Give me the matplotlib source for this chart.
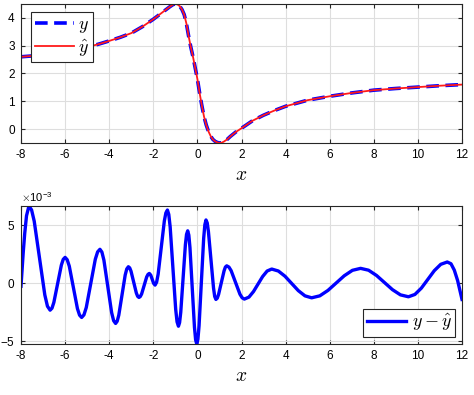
import numpy as np
import matplotlib
matplotlib.use("Agg")
import matplotlib.pyplot as plt
from matplotlib.ticker import ScalarFormatter

plt.rcParams['font.family'] = ['Liberation Sans', 'DejaVu Sans']
plt.rcParams['mathtext.fontset'] = 'cm'
plt.rcParams['axes.unicode_minus'] = False

# top panel: y and its approximation
x_top = [-8, -7.5, -7, -6.5, -6, -5.5, -5, -4.5, -4, -3.5, -3, -2.5, -2, -1.75,
         -1.5, -1.25, -1.1, -1, -0.9, -0.8, -0.7, -0.6, -0.5, -0.4, -0.3, -0.2,
         -0.1, 0, 0.1, 0.2, 0.3, 0.4, 0.5, 0.6, 0.7, 0.8, 0.9, 1.0, 1.1, 1.2,
         1.35, 1.5, 1.75, 2, 2.5, 3, 3.5, 4, 5, 6, 7, 8, 9, 10, 11, 12]
y_top = [2.6, 2.63, 2.67, 2.72, 2.78, 2.86, 2.95, 3.05, 3.17, 3.3, 3.45, 3.68,
         3.95, 4.1, 4.25, 4.4, 4.48, 4.5, 4.48, 4.42, 4.3, 4.12, 3.8, 3.35, 2.95,
         2.6, 2.2, 1.8, 1.3, 0.85, 0.45, 0.15, -0.08, -0.25, -0.37, -0.44, -0.48,
         -0.5, -0.49, -0.45, -0.37, -0.26, -0.1, 0.03, 0.3, 0.5, 0.67, 0.82, 1.04,
         1.18, 1.3, 1.4, 1.46, 1.51, 1.56, 1.6]
yhat_top = y_top

# bottom panel: error y - yhat, in units of 1e-3
x_err = [-8, -7.95, -7.9, -7.83, -7.75, -7.64, -7.52, -7.40, -7.16, -6.92, -6.80,
         -6.68, -6.595, -6.51, -6.34, -6.17, -6.085, -6.0, -5.906, -5.81, -5.625,
         -5.44, -5.344, -5.25, -5.146, -5.04, -4.835, -4.63, -4.524, -4.42,
         -4.331, -4.24, -4.065, -3.89, -3.799, -3.71, -3.638, -3.565, -3.42,
         -3.275, -3.203, -3.13, -3.07, -3.01, -2.89, -2.77, -2.71, -2.65, -2.591,
         -2.53, -2.415, -2.30, -2.239, -2.18, -2.115, -2.05, -1.985, -1.92, -1.85,
         -1.78, -1.64, -1.50, -1.43, -1.36, -1.298, -1.235, -1.11, -0.985, -0.923,
         -0.86, -0.808, -0.755, -0.65, -0.545, -0.493, -0.44, -0.389, -0.338,
         -0.235, -0.133, -0.081, -0.03, 0.023, 0.075, 0.18, 0.285, 0.338, 0.39,
         0.446, 0.50, 0.615, 0.73, 0.784, 0.84, 0.901, 0.96, 1.085, 1.21, 1.269,
         1.33, 1.43, 1.53, 1.73, 1.93, 2.03, 2.13, 2.337, 2.543, 2.75, 2.957,
         3.163, 3.37, 3.672, 3.973, 4.275, 4.577, 4.878, 5.18, 5.55, 5.92, 6.29,
         6.66, 7.03, 7.4, 7.762, 8.123, 8.485, 8.847, 9.208, 9.57, 9.863, 10.157,
         10.45, 10.743, 11.037, 11.33, 11.5, 11.65, 11.8, 11.9, 12]
e_err = [-0.3, 1.2, 2.6, 4.3, 5.8, 6.65, 6.31, 5.33, 2.14, -1.05, -2.03,
         -2.37, -2.20, -1.70, -0.085, 1.53, 2.03, 2.2, 2.0, 1.44, -0.4,
         -2.24, -2.80, -3.0, -2.78, -2.14, -0.05, 2.04, 2.68, 2.9,
         2.66, 1.96, -0.31, -2.58, -3.28, -3.52, -3.33, -2.80, -1.065,
         0.67, 1.20, 1.39, 1.29, 1.0, 0.06, -0.88, -1.17, -1.27, -1.19,
         -0.97, -0.23, 0.51, 0.73, 0.81, 0.66, 0.305, -0.05, -0.2, 0.05,
         0.75, 3.05, 5.35, 6.05, 6.3, 5.92, 4.83, 1.27, -2.29, -3.38,
         -3.76, -3.45, -2.55, 0.37, 3.29, 4.19, 4.5, 4.13, 3.06,
         -0.4, -3.86, -4.93, -5.3, -4.89, -3.73, 0.07, 3.87, 5.03, 5.44,
         5.18, 4.43, 2.0, -0.43, -1.18, -1.44, -1.33, -1.01, 0.015, 1.04, 1.36,
         1.47, 1.36, 1.05, 0.03, -0.99, -1.30, -1.41, -1.24, -0.76, -0.11, 0.54,
         1.02, 1.19, 1.02, 0.567, -0.055, -0.68, -1.13, -1.3, -1.13, -0.66, -0.025,
         0.61, 1.08, 1.25, 1.09, 0.635, 0.02, -0.595, -1.045, -1.21, -1.01, -0.46,
         0.295, 1.05, 1.6, 1.8, 1.65, 1.1, 0.2, -0.6, -1.44]

xticks = np.arange(-8, 13, 2)

fig = plt.figure(figsize=(4.74, 3.95), dpi=100)
ax1 = fig.add_axes([0.0443, 0.638, 0.9304, 0.352])
ax2 = fig.add_axes([0.0443, 0.1291, 0.9304, 0.3494])

def style(ax):
    ax.set_xlim(-8, 12)
    ax.set_xticks(xticks)
    ax.grid(True, color='#dedede', linewidth=0.8)
    ax.set_axisbelow(True)
    ax.tick_params(direction='in', top=True, right=True, labelsize=8.5, pad=4.5,
                   length=3, width=0.8, colors='#262626', labelcolor='black')
    for s in ax.spines.values():
        s.set_color('#262626')
        s.set_linewidth(0.8)
    ax.set_xlabel('$x$', fontsize=14, labelpad=4)

# top
ax1.plot(x_top, y_top, color='#0000ff', linestyle=(0, (3.5, 1.8)), linewidth=2.6, label='$y$')
ax1.plot(x_top, yhat_top, color='#ff1a1a', linewidth=1.3, label=r'$\hat{y}$')
ax1.set_ylim(min(y_top), max(y_top))
ax1.set_yticks([0, 1, 2, 3, 4])
style(ax1)
leg1 = ax1.legend(loc='upper left', fontsize=13, handlelength=2.2, handletextpad=0.2,
                  borderpad=0.2, labelspacing=0.15, fancybox=False, framealpha=1,
                  bbox_to_anchor=(0.023, 0.94), borderaxespad=0)
leg1.get_frame().set_edgecolor('#262626')
leg1.get_frame().set_linewidth(0.8)

# bottom
e_vals = np.array(e_err) * 1e-3
ax2.plot(x_err, e_vals, color='#0000ff', linewidth=2.4, label=r'$y-\hat{y}$')
ax2.set_ylim(e_vals.min(), e_vals.max())
ax2.set_yticks([-5e-3, 0, 5e-3])
fmt = ScalarFormatter(useMathText=True)
fmt.set_powerlimits((-2, 2))
ax2.yaxis.set_major_formatter(fmt)
ax2.yaxis.get_offset_text().set_fontsize(8)
style(ax2)
leg2 = ax2.legend(loc='lower right', fontsize=13, handlelength=2.2, handletextpad=0.3,
                  borderpad=0.2, fancybox=False, framealpha=1,
                  bbox_to_anchor=(0.985, 0.05), borderaxespad=0)
leg2.get_frame().set_edgecolor('#262626')
leg2.get_frame().set_linewidth(0.8)

fig.savefig('out.png', dpi=100)
